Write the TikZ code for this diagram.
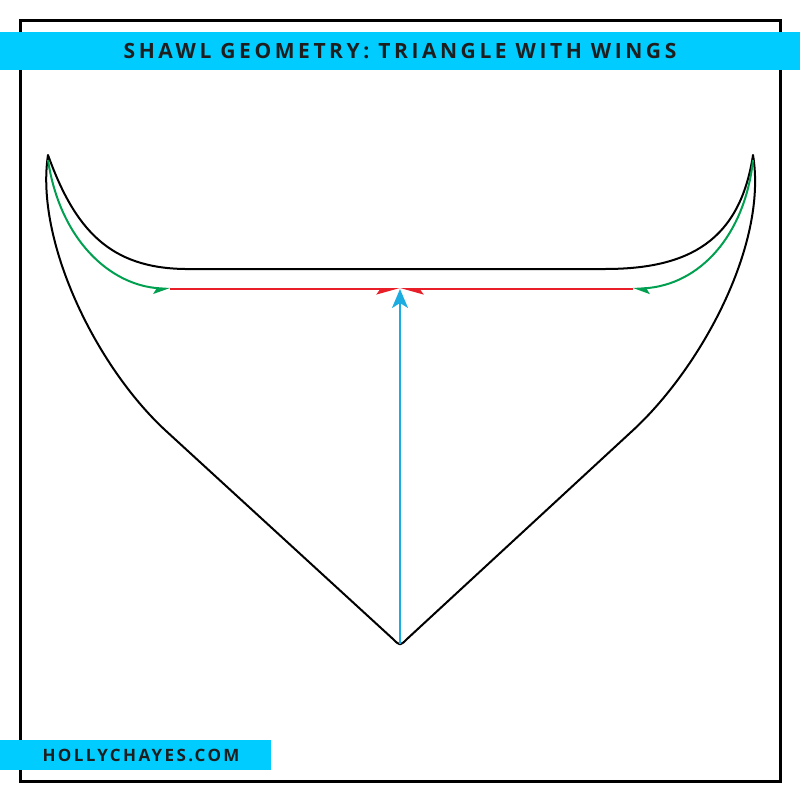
\documentclass[tikz,border=0pt]{standalone}
\usepackage{fontspec}
\setmainfont{Open Sans}
\newfontfamily\titlefont[LetterSpace=17]{Open Sans Bold}
\newfontfamily\footfont[LetterSpace=14]{Open Sans Bold}
\usetikzlibrary{arrows.meta}
\definecolor{bandcyan}{RGB}{0,204,255}
\definecolor{arrblue}{RGB}{27,172,226}
\definecolor{arrred}{RGB}{232,30,40}
\definecolor{arrgreen}{RGB}{0,160,80}
\definecolor{inkgray}{RGB}{30,30,30}
\tikzset{
  outline/.style={draw=black, line width=2pt, line join=round},
  frameline/.style={draw=black, line width=3pt},
  band/.style={fill=bandcyan},
  greenarc/.style={draw=arrgreen, line width=2pt, -{Stealth[harpoon,swap,length=14pt,width=12pt,inset=3pt]}},
  greenarcR/.style={draw=arrgreen, line width=2pt, -{Stealth[harpoon,length=14pt,width=12pt,inset=3pt]}},
  redL/.style={draw=arrred, line width=2pt, -{Stealth[harpoon,swap,length=20pt,width=11pt,inset=4pt]}},
  redR/.style={draw=arrred, line width=2pt, -{Stealth[harpoon,length=20pt,width=11pt,inset=4pt]}},
  bluearr/.style={draw=arrblue, line width=2pt, -{Stealth[length=19pt,width=16pt,inset=5pt]}},
  titletext/.style={text=inkgray, font=\titlefont\fontsize{21}{25}\selectfont, inner sep=0pt},
  foottext/.style={text=inkgray, font=\footfont\fontsize{17}{20}\selectfont, inner sep=0pt}
}
\begin{document}
\begin{tikzpicture}[x=1pt,y=-1pt]
\useasboundingbox (0,0) rectangle (800,800);
\fill[white] (0,0) rectangle (800,800);
% frame
\draw[frameline] (20,21) rectangle (780,781);
% bands
\fill[band] (0,32) rectangle (800,70);
\node[titletext] (title) at (400,51) {SHAWL GEOMETRY: TRIANGLE WITH WINGS};
\fill[band] (0,740) rectangle (271,770);
\node[foottext] (foot) at (141,755) {HOLLYCHAYES.COM};
% key points
\coordinate (tipL) at (48,155);
\coordinate (tipR) at (753,155);
\coordinate (topL) at (185,269);
\coordinate (topR) at (605,269);
\coordinate (sideL) at (165,430);
\coordinate (sideR) at (630,433);
\coordinate (botL) at (393,639);
\coordinate (botR) at (407,639);
\coordinate (bot) at (400,644);
\coordinate (redStartL) at (170,289);
\coordinate (redStartR) at (633,289);
\coordinate (mid) at (400,289);
% shawl outline
\draw[outline] (tipL) .. controls (75,230) and (110,268) .. (topL)
  -- (topR) .. controls (690,269) and (740,240) .. (tipR)
  .. controls (768,245) and (700,370) .. (sideR)
  -- (botR) .. controls (400,646) .. (botL)
  -- (sideL) .. controls (95,365) and (35,240) .. (tipL) -- cycle;
% green arcs
\draw[greenarc] (48,160) .. controls (60,240) and (110,285) .. (redStartL);
\draw[greenarcR] (753,160) .. controls (745,235) and (700,285) .. (redStartR);
% red width lines
\draw[redL] (redStartL) -- (mid);
\draw[redR] (redStartR) -- (mid);
% blue depth line
\draw[bluearr] (bot) -- (mid);
\end{tikzpicture}
\end{document}
